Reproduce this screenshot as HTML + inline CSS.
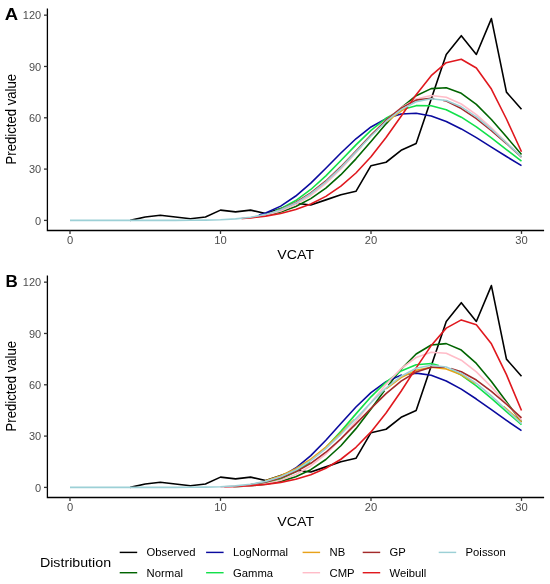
<!DOCTYPE html>
<html><head><meta charset="utf-8"><style>
html,body{margin:0;padding:0;background:#fff;}
#w{will-change:transform;}
svg{display:block;}
text{font-family:"Liberation Sans",sans-serif;}
.tk{font-size:11px;fill:#4d4d4d;}
.ttl{font-size:13.75px;fill:#000;}
.lg{font-size:11px;fill:#000;}
.tag{font-size:17px;font-weight:bold;fill:#000;}
polyline{fill:none;stroke-width:1.6;stroke-linejoin:round;stroke-linecap:butt;}
</style></head><body>
<div id="w"><svg width="550" height="584" viewBox="0 0 550 584">
<rect width="550" height="584" fill="#fff"/>
<path d="M47.4 8.5 V230.5 H544.1" fill="none" stroke="#000" stroke-width="1.3"/>
<line x1="44" x2="47.4" y1="220.40" y2="220.40" stroke="#333" stroke-width="1.3"/>
<text x="41.2" y="224.60" text-anchor="end" class="tk">0</text>
<line x1="44" x2="47.4" y1="169.09" y2="169.09" stroke="#333" stroke-width="1.3"/>
<text x="41.2" y="173.29" text-anchor="end" class="tk">30</text>
<line x1="44" x2="47.4" y1="117.78" y2="117.78" stroke="#333" stroke-width="1.3"/>
<text x="41.2" y="121.98" text-anchor="end" class="tk">60</text>
<line x1="44" x2="47.4" y1="66.47" y2="66.47" stroke="#333" stroke-width="1.3"/>
<text x="41.2" y="70.67" text-anchor="end" class="tk">90</text>
<line x1="44" x2="47.4" y1="15.16" y2="15.16" stroke="#333" stroke-width="1.3"/>
<text x="41.2" y="19.36" text-anchor="end" class="tk">120</text>
<line x1="70.00" x2="70.00" y1="230.5" y2="233.9" stroke="#333" stroke-width="1.3"/>
<text text-anchor="middle" class="tk" transform="translate(70.00 243.90) scale(1.02 0.95)">0</text>
<line x1="220.50" x2="220.50" y1="230.5" y2="233.9" stroke="#333" stroke-width="1.3"/>
<text text-anchor="middle" class="tk" transform="translate(220.50 243.90) scale(1.02 0.95)">10</text>
<line x1="371.00" x2="371.00" y1="230.5" y2="233.9" stroke="#333" stroke-width="1.3"/>
<text text-anchor="middle" class="tk" transform="translate(371.00 243.90) scale(1.02 0.95)">20</text>
<line x1="521.50" x2="521.50" y1="230.5" y2="233.9" stroke="#333" stroke-width="1.3"/>
<text text-anchor="middle" class="tk" transform="translate(521.50 243.90) scale(1.02 0.95)">30</text>
<polyline points="130.20,220.40 145.25,216.98 160.30,215.27 175.35,216.98 190.40,218.69 205.45,216.98 220.50,210.14 235.55,211.85 250.60,210.14 265.65,213.56 280.70,208.43 295.75,203.30 310.80,205.01 325.85,199.88 340.90,194.75 355.95,191.32 371.00,165.67 386.05,162.25 401.10,150.28 416.15,143.44 431.20,98.97 446.25,54.50 461.30,35.69 476.35,54.50 491.40,18.58 506.45,92.13 521.50,109.23" stroke="#000000"/>
<polyline points="258.12,216.55 265.65,215.44 280.70,211.88 295.75,206.46 310.80,198.66 325.85,188.11 340.90,174.72 355.95,158.85 371.00,141.40 386.05,123.83 392.07,117.47" stroke="#006400"/>
<polyline points="398.09,111.12 401.10,107.94 416.15,95.67 431.20,88.63 446.25,87.80 461.30,93.30 476.35,104.36 491.40,119.49 506.45,136.81 521.50,154.45" stroke="#006400"/>
<polyline points="258.88,214.92 265.65,213.07 280.70,206.12 295.75,196.03 310.80,183.10 325.85,168.28 340.90,152.99 355.95,138.77 371.00,126.99 386.05,118.59 390.56,117.22" stroke="#0a0a9e"/>
<polyline points="393.57,116.31 401.10,114.03 416.15,113.28 431.20,115.96 446.25,121.42 461.30,128.91 476.35,137.68 491.40,147.06 506.45,156.51 521.50,165.59" stroke="#0a0a9e"/>
<polyline points="275.43,210.70 280.70,208.78 295.75,200.57 310.80,189.47 325.85,175.83 340.90,160.53 355.95,144.87 371.00,130.33 386.05,118.29 396.58,112.39" stroke="#12e04a"/>
<polyline points="403.36,109.23 416.15,105.65 431.20,105.75 446.25,109.82 461.30,117.16 476.35,126.85 491.40,137.97 506.45,149.61 521.50,161.06" stroke="#12e04a"/>
<polyline points="386.80,121.60 401.10,111.02 407.87,106.87" stroke="#e8a21a"/>
<polyline points="241.57,218.62 250.60,217.78 265.65,215.25 280.70,211.05 295.75,204.60 310.80,195.46 325.85,183.49 340.90,168.95 355.95,152.67 361.97,145.98" stroke="#ffbcc8"/>
<polyline points="375.52,131.26 386.05,120.35 401.10,107.57 416.15,98.98 431.20,95.48 446.25,97.30 461.30,104.01 476.35,114.65 491.40,127.93 506.45,142.49 508.71,144.67" stroke="#ffbcc8"/>
<polyline points="277.69,210.46 280.70,209.51 295.75,202.53 310.80,192.97 325.85,180.97 340.90,166.70 355.95,151.00 371.00,135.11 386.05,120.23 401.10,108.11 416.15,100.09 431.20,98.18 434.21,98.75" stroke="#a32a2a"/>
<polyline points="443.24,100.45 446.25,101.02 461.30,108.54 476.35,118.68 491.40,130.64 506.45,143.52 521.50,157.21" stroke="#a32a2a"/>
<polyline points="241.57,218.53 250.60,217.87 265.65,216.13 280.70,213.49 295.75,209.60 310.80,204.06 325.85,196.41 340.90,186.18 355.95,173.00 371.00,156.69 386.05,137.48 401.10,116.24 407.87,106.56" stroke="#e0181e"/>
<polyline points="409.38,104.41 416.15,94.74 431.20,75.70 446.25,62.66 461.30,59.25 476.35,68.02 491.40,89.03 506.45,118.99 521.50,151.79" stroke="#e0181e"/>
<polyline points="70.00,220.40 85.05,220.40 100.10,220.40 115.15,220.40 130.20,220.40 145.25,220.40 160.30,220.39 175.35,220.37 190.40,220.30 205.45,220.12 220.50,219.71 235.55,218.86 250.60,217.24 265.65,214.40 280.70,209.85 295.75,203.08 310.80,193.74 325.85,181.78 340.90,167.56 355.95,151.90 371.00,136.05 386.05,121.47 401.10,109.65 416.15,101.80 431.20,98.70 446.25,100.50 461.30,106.83 476.35,116.80 491.40,129.27 506.45,143.01 521.50,156.86" stroke="#9cd0d6"/>
<text x="295.7" y="259.4" text-anchor="middle" class="ttl" transform="translate(295.7 259.4) scale(1.03 0.95) translate(-295.7 -259.4)">VCAT</text>
<text class="ttl" text-anchor="middle" transform="translate(15.6 119.2) rotate(-90) scale(0.955 1.0)">Predicted value</text>
<path d="M47.4 275.4 V497.5 H544.1" fill="none" stroke="#000" stroke-width="1.3"/>
<line x1="44" x2="47.4" y1="487.40" y2="487.40" stroke="#333" stroke-width="1.3"/>
<text x="41.2" y="491.60" text-anchor="end" class="tk">0</text>
<line x1="44" x2="47.4" y1="436.09" y2="436.09" stroke="#333" stroke-width="1.3"/>
<text x="41.2" y="440.29" text-anchor="end" class="tk">30</text>
<line x1="44" x2="47.4" y1="384.78" y2="384.78" stroke="#333" stroke-width="1.3"/>
<text x="41.2" y="388.98" text-anchor="end" class="tk">60</text>
<line x1="44" x2="47.4" y1="333.47" y2="333.47" stroke="#333" stroke-width="1.3"/>
<text x="41.2" y="337.67" text-anchor="end" class="tk">90</text>
<line x1="44" x2="47.4" y1="282.16" y2="282.16" stroke="#333" stroke-width="1.3"/>
<text x="41.2" y="286.36" text-anchor="end" class="tk">120</text>
<line x1="70.00" x2="70.00" y1="497.5" y2="500.9" stroke="#333" stroke-width="1.3"/>
<text text-anchor="middle" class="tk" transform="translate(70.00 510.90) scale(1.02 0.95)">0</text>
<line x1="220.50" x2="220.50" y1="497.5" y2="500.9" stroke="#333" stroke-width="1.3"/>
<text text-anchor="middle" class="tk" transform="translate(220.50 510.90) scale(1.02 0.95)">10</text>
<line x1="371.00" x2="371.00" y1="497.5" y2="500.9" stroke="#333" stroke-width="1.3"/>
<text text-anchor="middle" class="tk" transform="translate(371.00 510.90) scale(1.02 0.95)">20</text>
<line x1="521.50" x2="521.50" y1="497.5" y2="500.9" stroke="#333" stroke-width="1.3"/>
<text text-anchor="middle" class="tk" transform="translate(521.50 510.90) scale(1.02 0.95)">30</text>
<polyline points="130.20,487.40 145.25,483.98 160.30,482.27 175.35,483.98 190.40,485.69 205.45,483.98 220.50,477.14 235.55,478.85 250.60,477.14 265.65,480.56 280.70,475.43 295.75,470.30 310.80,472.01 325.85,466.88 340.90,461.75 355.95,458.32 371.00,432.67 386.05,429.25 401.10,417.28 416.15,410.44 431.20,365.97 446.25,321.50 461.30,302.69 476.35,321.50 491.40,285.58 506.45,359.13 521.50,376.23" stroke="#000000"/>
<polyline points="233.29,486.68 235.55,486.62 250.60,485.77 265.65,484.18 280.70,481.39 295.75,476.80 310.80,469.71 325.85,459.49 340.90,445.76 355.95,428.64 371.00,408.98 384.55,390.48" stroke="#006400"/>
<polyline points="388.31,385.55 401.10,369.25 416.15,354.03 431.20,345.00 446.25,343.62 461.30,350.10 476.35,363.40 491.40,381.49 506.45,401.85 521.50,422.05" stroke="#006400"/>
<polyline points="259.63,483.25 265.65,482.60 273.18,479.81" stroke="#0a0a9e"/>
<polyline points="287.47,472.98 295.75,468.05 310.80,455.58 325.85,440.25 340.90,423.45 355.95,406.98 371.00,392.59 386.05,381.70 401.10,375.14 401.85,375.04" stroke="#0a0a9e"/>
<polyline points="405.62,374.54 416.15,373.12 431.20,375.28 446.25,380.93 461.30,389.16 476.35,399.03 491.40,409.68 506.45,420.41 521.50,430.67" stroke="#0a0a9e"/>
<polyline points="256.62,483.85 265.65,483.31 280.70,478.91 295.75,471.74 310.05,461.83" stroke="#12e04a"/>
<polyline points="323.59,449.68 325.85,447.62 340.90,431.38 355.95,413.88 371.00,396.83 386.05,382.02 401.10,370.97 416.15,364.70 431.20,363.55 438.73,365.41" stroke="#12e04a"/>
<polyline points="451.52,369.98 461.30,375.03 476.35,385.80 491.40,398.36 506.45,411.61 521.50,424.62" stroke="#12e04a"/>
<polyline points="264.90,480.80 265.65,480.65 280.70,475.79 295.75,468.73 310.80,459.19 325.85,447.19 340.90,433.16 354.44,419.45" stroke="#e8a21a"/>
<polyline points="386.05,388.78 401.10,377.58 416.15,370.18 431.20,367.23 446.25,368.89 461.30,374.77 475.60,383.63" stroke="#e8a21a"/>
<polyline points="503.44,406.28 506.45,408.89 521.50,422.17" stroke="#e8a21a"/>
<polyline points="220.50,487.11 235.55,486.65 250.60,485.66 265.65,483.71 280.70,480.22 295.75,474.51 310.80,465.94 325.85,454.08 340.90,438.98 355.95,421.33 367.24,407.17" stroke="#ffbcc8"/>
<polyline points="371.75,401.54 386.05,384.19 401.10,368.58 416.15,357.50 431.20,352.23 446.25,353.24 461.30,360.17 476.35,371.92 491.40,386.91 506.45,403.44 521.50,419.96" stroke="#ffbcc8"/>
<polyline points="246.09,485.01 250.60,484.58 265.65,482.05 280.70,477.96 295.75,471.83 310.80,463.29 325.85,452.23 340.90,438.88 355.95,423.91 371.00,408.39 386.05,393.65 401.10,381.12 416.15,372.04 431.20,367.30 444.75,367.25" stroke="#a32a2a"/>
<polyline points="450.77,368.59 461.30,371.72 476.35,380.07 491.40,391.30 506.45,404.25 521.50,417.81" stroke="#a32a2a"/>
<polyline points="224.26,486.80 235.55,486.46 250.60,485.68 265.65,484.39 280.70,482.35 295.75,479.26 310.80,474.71 325.85,468.22 340.90,459.25 355.95,447.28 371.00,431.91 386.05,413.06 401.10,391.25 416.15,367.89 431.20,345.60 446.25,328.13 461.30,319.91 476.35,324.71 491.40,343.85 506.45,374.68 521.50,410.53" stroke="#e0181e"/>
<polyline points="70.00,487.40 85.05,487.40 100.10,487.40 115.15,487.40 130.20,487.40 145.25,487.40 160.30,487.39 175.35,487.37 190.40,487.30 205.45,487.12 220.50,486.71 235.55,485.85 250.60,484.22 265.65,481.37 280.70,476.80 295.75,469.99 310.80,460.61 325.85,448.59 340.90,434.31 355.95,418.59 371.00,402.67 386.05,388.04 401.10,376.19 416.15,368.32 431.20,365.22 446.25,367.05 461.30,373.41 476.35,383.43 491.40,395.96 506.45,409.75 521.50,423.66" stroke="#9cd0d6"/>
<text x="295.7" y="526.4" text-anchor="middle" class="ttl" transform="translate(295.7 526.4) scale(1.03 0.95) translate(-295.7 -526.4)">VCAT</text>
<text class="ttl" text-anchor="middle" transform="translate(15.6 386.2) rotate(-90) scale(0.955 1.0)">Predicted value</text>
<text class="tag" transform="translate(4.75 19.8) scale(1.09 0.93)">A</text>
<text class="tag" transform="translate(5.6 286.8) scale(1.0 0.92)">B</text>
<text class="ttl" transform="translate(39.9 567.0) scale(1.036 0.93)">Distribution</text>
<line x1="119.7" x2="137.2" y1="552.4" y2="552.4" stroke="#000000" stroke-width="1.45"/>
<text class="lg" transform="translate(146.6 556.4) scale(1.025 1)">Observed</text>
<line x1="119.7" x2="137.2" y1="572.7" y2="572.7" stroke="#006400" stroke-width="1.45"/>
<text class="lg" transform="translate(146.6 576.7) scale(1.025 1)">Normal</text>
<line x1="206.1" x2="223.6" y1="552.4" y2="552.4" stroke="#0a0a9e" stroke-width="1.45"/>
<text class="lg" transform="translate(233.0 556.4) scale(1.025 1)">LogNormal</text>
<line x1="206.1" x2="223.6" y1="572.7" y2="572.7" stroke="#12e04a" stroke-width="1.45"/>
<text class="lg" transform="translate(233.0 576.7) scale(1.025 1)">Gamma</text>
<line x1="302.59999999999997" x2="320.09999999999997" y1="552.4" y2="552.4" stroke="#e8a21a" stroke-width="1.45"/>
<text class="lg" transform="translate(329.5 556.4) scale(1.025 1)">NB</text>
<line x1="302.59999999999997" x2="320.09999999999997" y1="572.7" y2="572.7" stroke="#ffbcc8" stroke-width="1.45"/>
<text class="lg" transform="translate(329.5 576.7) scale(1.025 1)">CMP</text>
<line x1="362.7" x2="380.2" y1="552.4" y2="552.4" stroke="#a32a2a" stroke-width="1.45"/>
<text class="lg" transform="translate(389.6 556.4) scale(1.025 1)">GP</text>
<line x1="362.7" x2="380.2" y1="572.7" y2="572.7" stroke="#e0181e" stroke-width="1.45"/>
<text class="lg" transform="translate(389.6 576.7) scale(1.025 1)">Weibull</text>
<line x1="438.7" x2="456.2" y1="552.4" y2="552.4" stroke="#9cd0d6" stroke-width="1.45"/>
<text class="lg" transform="translate(465.6 556.4) scale(1.025 1)">Poisson</text>
</svg></div>
</body></html>
